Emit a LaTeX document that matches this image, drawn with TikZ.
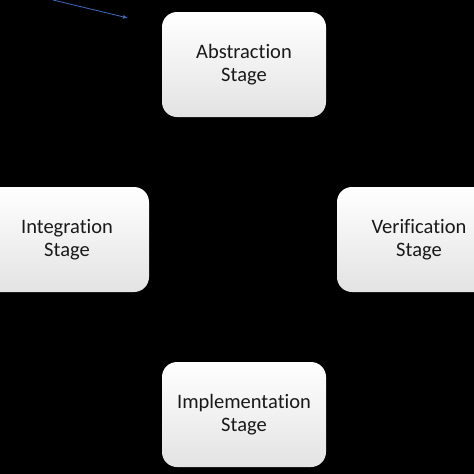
\documentclass[tikz,border=0pt]{standalone}
\usepackage{fontspec}
\setmainfont[Ligatures=NoCommon]{Carlito}
\usetikzlibrary{arrows.meta}
\definecolor{stageblue}{RGB}{58,108,190}
\tikzset{
	stagebox/.style={draw=none, rounded corners=15pt, top color=white, middle color=white, bottom color=black!11,
		minimum width=164pt, minimum height=105pt, align=center, font=\fontsize{20.5}{23}\selectfont, text=black!90},
}

\begin{document}
\begin{tikzpicture}[x=1pt, y=-1pt]
		%%%%% START %%%%%
		
		\fill[black] (0, 0) rectangle (474, 474);
		\useasboundingbox (0, 0) rectangle (474, 474);
		
		\node[stagebox] (abstraction) at (244, 64.5) {Abstraction\\Stage};
		\node[stagebox] (integration) at (67, 239.5) {Integration\\Stage};
		\node[stagebox] (verification) at (419, 239.5) {Verification\\Stage};
		\node[stagebox] (implementation) at (244, 414.5) {Implementation\\Stage};
		
		\coordinate (pointerstart) at (53, 0);
		\coordinate (pointerend) at (128, 18);
		\draw[line width=0.8pt, color=stageblue, -{Latex[length=5pt, width=4pt]}] (pointerstart) -- (pointerend);
		
		%%%%% END %%%%%
	\end{tikzpicture}
\end{document}
